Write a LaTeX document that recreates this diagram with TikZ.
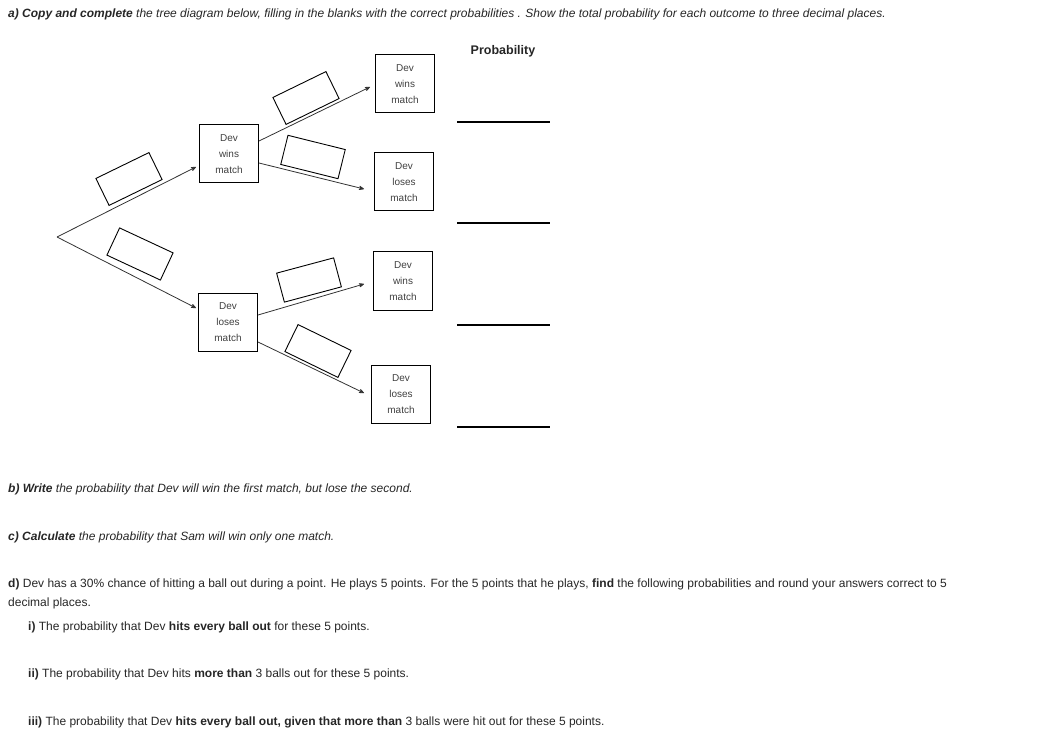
\documentclass[tikz,border=0pt]{standalone}
\usepackage{fontspec}
\setmainfont{Liberation Sans}
\usetikzlibrary{arrows}
\begin{document}
\begin{tikzpicture}[x=1pt,y=-1pt,
  box/.style={draw,line width=1pt,minimum width=59pt,minimum height=58pt,align=center,font=\fontsize{10}{16}\selectfont,text=black!75,inner sep=1pt},
  blank/.style={draw,line width=0.9pt,minimum width=59pt,minimum height=30pt,inner sep=0pt},
  br/.style={->,>=stealth',line width=0.8pt,black!80},
  txt/.style={anchor=west,inner sep=0pt,font=\fontsize{12}{14}\selectfont,text=black!85},
  ln/.style={line width=1.3pt}]
\useasboundingbox (0,0) rectangle (1038,751);
\coordinate (r) at (57,237);
\node[box] (w1) at (229,154) {Dev\\wins\\match};
\node[box] (l1) at (228,322) {Dev\\loses\\match};
\node[box] (ww) at (405,84) {Dev\\wins\\match};
\node[box] (wl) at (404,182) {Dev\\loses\\match};
\node[box] (lw) at (403,281) {Dev\\wins\\match};
\node[box] (ll) at (401,394) {Dev\\loses\\match};
\coordinate (e1) at (196,167);
\coordinate (e2) at (196,308);
\coordinate (e3) at (370,87);
\coordinate (e4) at (364,189);
\coordinate (e5) at (364,284);
\coordinate (e6) at (364,393);
\draw[br] (r) -- (e1);
\draw[br] (r) -- (e2);
\draw[br] (w1.east |- 0,141) -- (e3);
\draw[br] (w1.east |- 0,163) -- (e4);
\draw[br] (l1.east |- 0,315) -- (e5);
\draw[br] (l1.east |- 0,342) -- (e6);
\node[blank,rotate=26] (b1) at (129,179) {};
\node[blank,rotate=-25] (b2) at (140,254) {};
\node[blank,rotate=26] (b3) at (306,98) {};
\node[blank,rotate=-14] (b4) at (313,157) {};
\node[blank,rotate=15] (b5) at (309,280) {};
\node[blank,rotate=-26] (b6) at (318,351) {};
\node[anchor=center,font=\fontsize{12.5}{14}\selectfont\bfseries,text=black!85] (pr) at (503,51) {Probability};
\foreach \yy/\n in {122/p1,223/p2,325/p3,427/p4}{\coordinate (\n a) at (457,\yy); \coordinate (\n b) at (550,\yy); \draw[ln] (\n a) -- (\n b);}
\node[txt] (ta) at (8,14) {\itshape\textbf{a) Copy and complete} the tree diagram below, filling in the blanks with the correct probabilities . Show the total probability for each outcome to three decimal places.};
\node[txt] (tb) at (8,489) {\itshape\textbf{b) Write} the probability that Dev will win the first match, but lose the second.};
\node[txt] (tc) at (8,537) {\itshape\textbf{c) Calculate} the probability that Sam will win only one match.};
\node[txt] (td) at (8,584) {\textbf{d)} Dev has a 30\% chance of hitting a ball out during a point. He plays 5 points. For the 5 points that he plays, \textbf{find} the following probabilities and round your answers correct to 5};
\node[txt] (td2) at (8,603) {decimal places.};
\node[txt] (ti) at (28,627) {\textbf{i)} The probability that Dev \textbf{hits every ball out} for these 5 points.};
\node[txt] (tii) at (28,674) {\textbf{ii)} The probability that Dev hits \textbf{more than} 3 balls out for these 5 points.};
\node[txt] (tiii) at (28,722) {\textbf{iii)} The probability that Dev \textbf{hits every ball out, given that more than} 3 balls were hit out for these 5 points.};
\end{tikzpicture}
\end{document}
